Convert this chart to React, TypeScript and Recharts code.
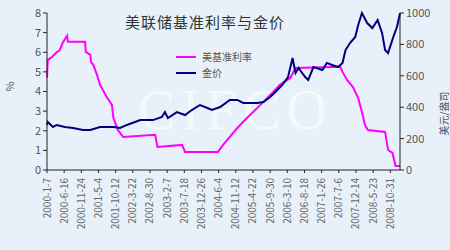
import React from 'react';
import { LineChart, Line, XAxis, YAxis } from 'recharts';

// tick labels on the x axis, one every 23 weeks
const dateLabels = [
  '2000-1-7', '2000-6-16', '2000-11-24', '2001-5-4', '2001-10-12', '2002-3-22',
  '2002-8-30', '2003-2-7', '2003-7-18', '2003-12-26', '2004-6-4', '2004-11-12',
  '2005-4-22', '2005-9-30', '2006-3-10', '2006-8-18', '2007-1-26', '2007-7-6',
  '2007-12-14', '2008-5-23', '2008-10-31',
];
const labelWeeks = [0, 23, 46, 69, 92, 115, 138, 161, 184, 207, 230, 253, 276, 299, 322, 345, 368, 391, 414, 437, 460];

// Fed funds rate (%) — week index since 2000-1-7
const rateWeeks = [0, 1, 7, 13, 17, 21, 27, 28, 51, 52, 58, 59, 62, 67, 71, 80, 87, 89, 95, 102, 145, 148, 181, 185, 229, 236, 255, 268, 286, 303, 312, 326, 333, 393, 396, 402, 410, 417, 422, 426, 430, 453, 457, 463, 467, 473];
const rateValues = [4.7, 5.6, 5.77, 6.0, 6.1, 6.48, 6.84, 6.53, 6.53, 6.02, 5.87, 5.5, 5.36, 4.85, 4.34, 3.72, 3.32, 2.65, 2.04, 1.68, 1.79, 1.17, 1.28, 0.92, 0.92, 1.28, 2.14, 2.65, 3.32, 3.98, 4.34, 4.69, 5.2, 5.26, 5.0, 4.59, 4.23, 3.67, 2.96, 2.3, 2.04, 1.94, 1.02, 0.87, 0.2, 0.2];

// gold price (USD/oz)
const goldWeeks = [0, 1, 8, 13, 24, 35, 48, 58, 71, 89, 98, 107, 125, 142, 154, 158, 162, 174, 185, 194, 205, 215, 221, 232, 245, 255, 263, 272, 282, 290, 299, 306, 315, 323, 329, 333, 337, 346, 350, 357, 369, 375, 382, 390, 396, 400, 406, 413, 417, 422, 429, 436, 443, 449, 453, 457, 464, 469, 473];
const goldValues = [287, 306, 274, 287, 274, 268, 255, 255, 274, 274, 268, 287, 318, 318, 338, 369, 331, 369, 350, 382, 414, 395, 382, 401, 446, 446, 427, 427, 427, 433, 465, 497, 541, 592, 713, 618, 650, 592, 573, 656, 637, 682, 669, 656, 682, 764, 809, 847, 924, 1000, 936, 904, 955, 873, 764, 745, 847, 911, 1000];

const rateData = rateWeeks.map((w, i) => ({ w, v: rateValues[i] }));
const goldData = goldWeeks.map((w, i) => ({ w, v: goldValues[i] }));

const XTick = (props: any) => {
  const { x, y, payload } = props;
  const idx = labelWeeks.indexOf(payload.value);
  return (
    <text
      x={x}
      y={y}
      dx={-3}
      dy={3.5}
      transform={`rotate(-90, ${x}, ${y})`}
      textAnchor="end"
      fontSize={10}
      fill="#666"
    >
      {idx >= 0 ? dateLabels[idx] : ''}
    </text>
  );
};

export default function App() {
  return (
    <div
      style={{
        position: 'absolute',
        left: 0,
        top: 0,
        width: 450,
        height: 250,
        background: '#e8f1f9',
        fontFamily: '"Noto Sans CJK SC", "Noto Sans", sans-serif',
        overflow: 'hidden',
      }}
    >
      {/* title */}
      <div
        style={{
          position: 'absolute',
          left: 125,
          top: 11,
          fontSize: 15,
          color: '#333',
          letterSpacing: 1,
        }}
      >
        美联储基准利率与金价
      </div>

      {/* watermark */}
      <div
        style={{
          position: 'absolute',
          left: 138,
          top: 90,
          fontSize: 56,
          lineHeight: '40px',
          height: 40,
          fontFamily: '"Liberation Serif", serif',
          color: 'rgba(255,255,255,0.55)',
          letterSpacing: 6,
        }}
      >
        CIFCO
      </div>

      {/* legend */}
      <div style={{ position: 'absolute', left: 176, top: 49, fontSize: 10, color: '#555', lineHeight: '16px' }}>
        <div style={{ display: 'flex', alignItems: 'center' }}>
          <span style={{ width: 20, height: 2, background: '#ff00ff', marginRight: 6 }} />
          美基准利率
        </div>
        <div style={{ display: 'flex', alignItems: 'center' }}>
          <span style={{ width: 20, height: 2, background: '#000080', marginRight: 6 }} />
          金价
        </div>
      </div>

      <LineChart
        width={450}
        height={250}
        margin={{ top: 13, right: 0, bottom: 0, left: 0 }}
        style={{ position: 'absolute', left: 0, top: 0 }}
      >
        <XAxis
          dataKey="w"
          type="number"
          domain={[0, 473]}
          ticks={labelWeeks}
          interval={0}
          height={80}
          tickSize={3}
          tickMargin={2}
          stroke="#222"
          tick={<XTick />}
          allowDuplicatedCategory={false}
        />
        <YAxis
          yAxisId="l"
          domain={[0, 8]}
          ticks={[0, 1, 2, 3, 4, 5, 6, 7, 8]}
          width={47}
          tickSize={4}
          stroke="#222"
          tick={{ fill: '#555', fontSize: 11 }}
          label={{ value: '%', angle: -90, position: 'insideLeft', offset: 10, fill: '#555', fontSize: 11 }}
        />
        <YAxis
          yAxisId="r"
          orientation="right"
          domain={[0, 1000]}
          ticks={[0, 100, 200, 300, 400, 500, 600, 700, 800, 900, 1000]}
          width={50}
          tickSize={4}
          stroke="#222"
          tick={{ fill: '#555', fontSize: 11 }}
          label={{ value: '美元/盎司', angle: -90, position: 'insideRight', offset: 6, fill: '#555', fontSize: 10 }}
        />
        <Line
          data={rateData}
          dataKey="v"
          yAxisId="l"
          stroke="#ff00ff"
          strokeWidth={2}
          dot={false}
          type="linear"
          isAnimationActive={false}
        />
        <Line
          data={goldData}
          dataKey="v"
          yAxisId="r"
          stroke="#000080"
          strokeWidth={2}
          dot={false}
          type="linear"
          isAnimationActive={false}
        />
      </LineChart>
    </div>
  );
}
